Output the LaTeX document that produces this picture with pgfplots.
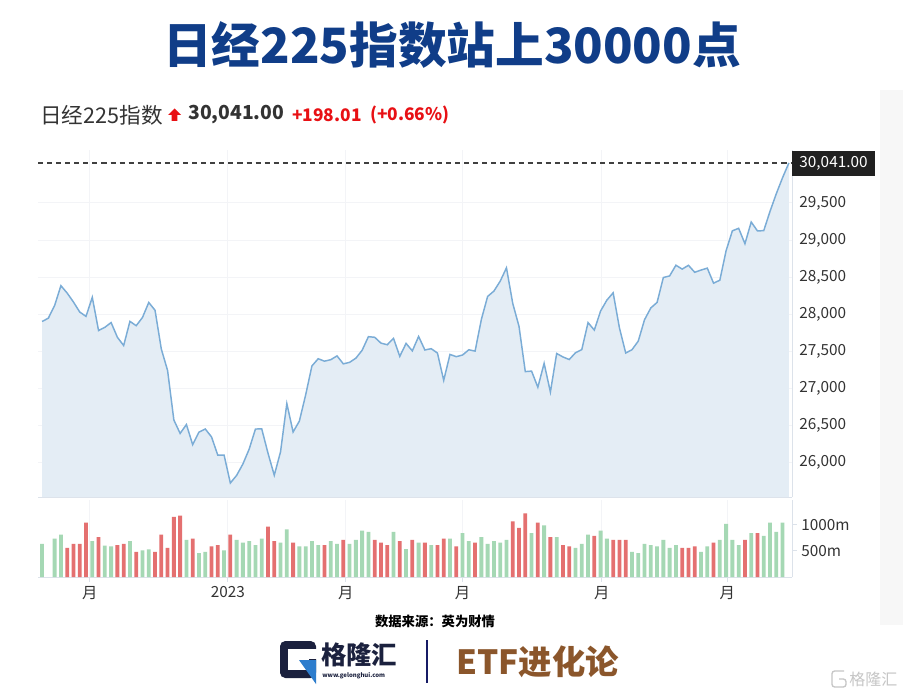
\documentclass[border=0pt]{standalone}
\usepackage{pgfplots}
\usepackage{pgfplotstable}
\pgfplotsset{compat=1.18}
\usepackage{fontspec}
\setmainfont{Noto Sans CJK SC}
\definecolor{titleblue}{RGB}{16,61,136}
\definecolor{upred}{RGB}{232,16,20}
\definecolor{linec}{RGB}{122,172,214}
\definecolor{areac}{RGB}{228,237,245}
\definecolor{barg}{RGB}{165,216,180}
\definecolor{barr}{RGB}{228,112,112}
\definecolor{gridc}{RGB}{243,244,247}
\definecolor{axisc}{RGB}{220,226,234}
\definecolor{txt}{RGB}{51,51,51}
\definecolor{etfbrown}{RGB}{139,86,43}
\definecolor{navy}{RGB}{27,33,62}
\definecolor{gblue}{RGB}{45,125,205}
\definecolor{graybg}{RGB}{247,247,247}

\pgfplotstableread{
x y
0 27899
1 27944
2 28115
3 28383
4 28283
5 28162
6 28027
7 27968
8 28226
9 27777
10 27820
11 27885
12 27686
13 27574
14 27901
15 27842
16 27954
17 28156
18 28051
19 27527
20 27237
21 26568
22 26387
23 26507
24 26235
25 26405
26 26447
27 26340
28 26093
29 26095
30 25717
31 25820
32 25974
33 26175
34 26446
35 26449
36 26120
37 25822
38 26139
39 26791
40 26406
41 26554
42 26907
43 27299
44 27396
45 27363
46 27383
47 27434
48 27327
49 27347
50 27403
51 27510
52 27694
53 27686
54 27607
55 27585
56 27671
57 27428
58 27603
59 27502
60 27697
61 27514
62 27532
63 27473
64 27104
65 27454
66 27424
67 27446
68 27517
69 27499
70 27927
71 28238
72 28310
73 28444
74 28624
75 28144
76 27833
77 27222
78 27229
79 27011
80 27334
81 26946
82 27467
83 27420
84 27385
85 27477
86 27519
87 27884
88 27783
89 28041
90 28188
91 28287
92 27813
93 27473
94 27518
95 27634
96 27923
97 28082
98 28157
99 28493
100 28515
101 28659
102 28607
103 28658
104 28564
105 28594
106 28620
107 28417
108 28457
109 28856
110 29124
111 29158
112 28950
113 29243
114 29122
115 29127
116 29388
117 29626
118 29843
119 30041
}\pricetab

\pgfplotstableread{
x v
0 632
2 734
3 810
8 683
10 601
11 582
14 683
16 506
17 525
23 708
25 455
26 481
29 506
31 708
32 658
33 683
34 607
35 734
38 658
39 911
41 582
42 582
43 683
44 607
46 683
47 632
49 632
50 708
51 885
52 860
56 860
58 531
60 658
62 608
65 734
67 836
68 684
70 760
71 633
72 684
73 658
74 709
78 836
80 987
82 760
85 557
86 633
87 810
89 886
90 734
94 481
95 456
96 633
97 608
98 582
99 709
100 557
101 608
105 481
106 582
108 709
109 1013
110 709
111 608
113 836
115 785
116 1038
117 861
118 1038
}\volgreen

\pgfplotstableread{
x v
4 557
5 632
6 632
7 1037
9 759
12 607
13 632
15 481
18 481
19 810
20 557
21 1145
22 1170
24 734
27 582
28 607
30 810
36 961
37 683
40 658
45 607
48 708
53 708
54 658
55 607
57 683
59 709
61 658
63 608
64 734
66 582
69 658
75 1063
76 937
77 1215
79 1038
81 760
83 608
84 582
88 785
91 709
92 709
93 709
102 557
103 557
104 582
107 658
112 709
114 836
}\volred

\begin{document}
\begin{tikzpicture}
\fill[white] (0,0) rectangle (677.25pt,520.5pt);
\begin{scope}[x=0.75pt,y=-0.75pt,yshift=520.5pt]
  \fill[graybg] (880,90) rectangle (903,625);
  \node[text=titleblue, font=\bfseries\fontsize{36.5}{36.5}\selectfont, inner sep=0] at (452,45) {日经225指数站上30000点};
  \node[anchor=west, text=txt, font=\fontsize{16.2}{16.2}\selectfont, inner sep=0] at (40,115) {日经225指数};
  \fill[upred] (174.5,108.5) -- (181,115) -- (177.3,115) -- (177.3,121) -- (171.7,121) -- (171.7,115) -- (168,115) -- cycle;
  \node[anchor=west, text=txt, font=\bfseries\fontsize{14.5}{14.5}\selectfont, inner sep=0] at (188,115) {30,041.00};
  \node[anchor=west, text=upred, font=\bfseries\fontsize{13}{13}\selectfont, inner sep=0] at (292,115) {+198.01};
  \node[anchor=west, text=upred, font=\bfseries\fontsize{13}{13}\selectfont, inner sep=0] at (370,115) {(+0.66\%)};
\end{scope}

\begin{axis}[at={(28.5pt,147.75pt)}, anchor=south west, scale only axis,
  width=565.5pt, height=260.25pt,
  xmin=-0.65, xmax=119.5, ymin=25528, ymax=30216,
  axis x line*=bottom, axis y line*=right,
  axis line style={axisc, line width=0.75pt},
  scaled y ticks=false,
  xtick={7.6,29.6,48.4,67,89.2,109.2}, xticklabels={},
  ytick={26000,26500,...,29500},
  yticklabels={{26,000},{26,500},{27,000},{27,500},{28,000},{28,500},{29,000},{29,500}},
  yticklabel style={text=txt, font=\fontsize{11.5}{11.5}\selectfont, xshift=2pt},
  xmajorgrids, ymajorgrids, grid style={gridc, line width=0.75pt},
  major tick length=0pt]
  \addplot[fill=areac, draw=none] table[x=x, y=y] {\pricetab} \closedcycle;
  \addplot[linec, line width=1.1pt] table[x=x, y=y] {\pricetab};
  \draw[black!75, line width=0.9pt, dash pattern=on 3.8pt off 3pt] (axis cs:-0.65,30041) -- (axis cs:119.3,30041);
\end{axis}

\begin{axis}[at={(28.5pt,87.75pt)}, anchor=south west, scale only axis,
  width=565.5pt, height=57.75pt,
  xmin=-0.65, xmax=119.5, ymin=0, ymax=1469,
  axis x line*=bottom, axis y line*=right,
  axis line style={axisc, line width=0.75pt},
  scaled y ticks=false,
  xtick={7.6,29.6,48.4,67,89.2,109.2}, xticklabels={月,2023,月,月,月,月},
  xticklabel style={text=txt, font=\fontsize{11.5}{11.5}\selectfont},
  ytick={500,1000}, yticklabels={500m,1000m},
  yticklabel style={text=txt, font=\fontsize{11.5}{11.5}\selectfont, xshift=0pt},
  xmajorgrids, grid style={gridc, line width=0.75pt},
  tick align=outside, major tick length=3.5pt, tick style={axisc, line width=0.75pt}]
  \addplot[ybar, bar width=2.85pt, bar shift=0pt, fill=barg, draw=none] table[x=x, y=v] {\volgreen};
  \addplot[ybar, bar width=2.85pt, bar shift=0pt, fill=barr, draw=none] table[x=x, y=v] {\volred};
\end{axis}

\begin{scope}[x=0.75pt,y=-0.75pt,yshift=520.5pt]
  \fill[black!87] (792,151) rectangle (875,176);
  \node[text=white, font=\fontsize{11.5}{11.5}\selectfont, inner sep=0] at (833.5,163.5) {30,041.00};
  \node[font=\bfseries\fontsize{10}{10}\selectfont, inner sep=0] at (435,621) {数据来源：英为财情};
  % logo
  \fill[navy, rounded corners=4] (280,641) rectangle (316,678);
  \fill[white] (288,649) rectangle (309,670);
  \fill[white] (305,649) rectangle (317,659);
  \fill[gblue] (299,660) -- (316,660) -- (316,684) -- cycle;
  \node[anchor=west, text=navy, font=\bfseries\fontsize{19}{19}\selectfont, inner sep=0] at (321,655) {格隆汇};
  \node[anchor=west, text=navy, font=\bfseries\fontsize{4.5}{4.5}\selectfont, inner sep=0] at (322,676) {www.gelonghui.com};
  \draw[navy!80!blue, line width=0.8pt] (427,640) -- (427,683);
  \node[anchor=west, text=etfbrown, font=\bfseries\fontsize{25}{25}\selectfont, inner sep=0] at (456,662) {ETF进化论};
  % watermark
  \draw[gray!45, line width=1pt, rounded corners=2] (844,671) -- (832,671) -- (832,687) -- (846,687) -- (846,679) -- (839,679);
  \node[anchor=west, text=gray!45, font=\fontsize{12}{12}\selectfont, inner sep=0] at (849,679) {格隆汇};
\end{scope}
\end{tikzpicture}
\end{document}
